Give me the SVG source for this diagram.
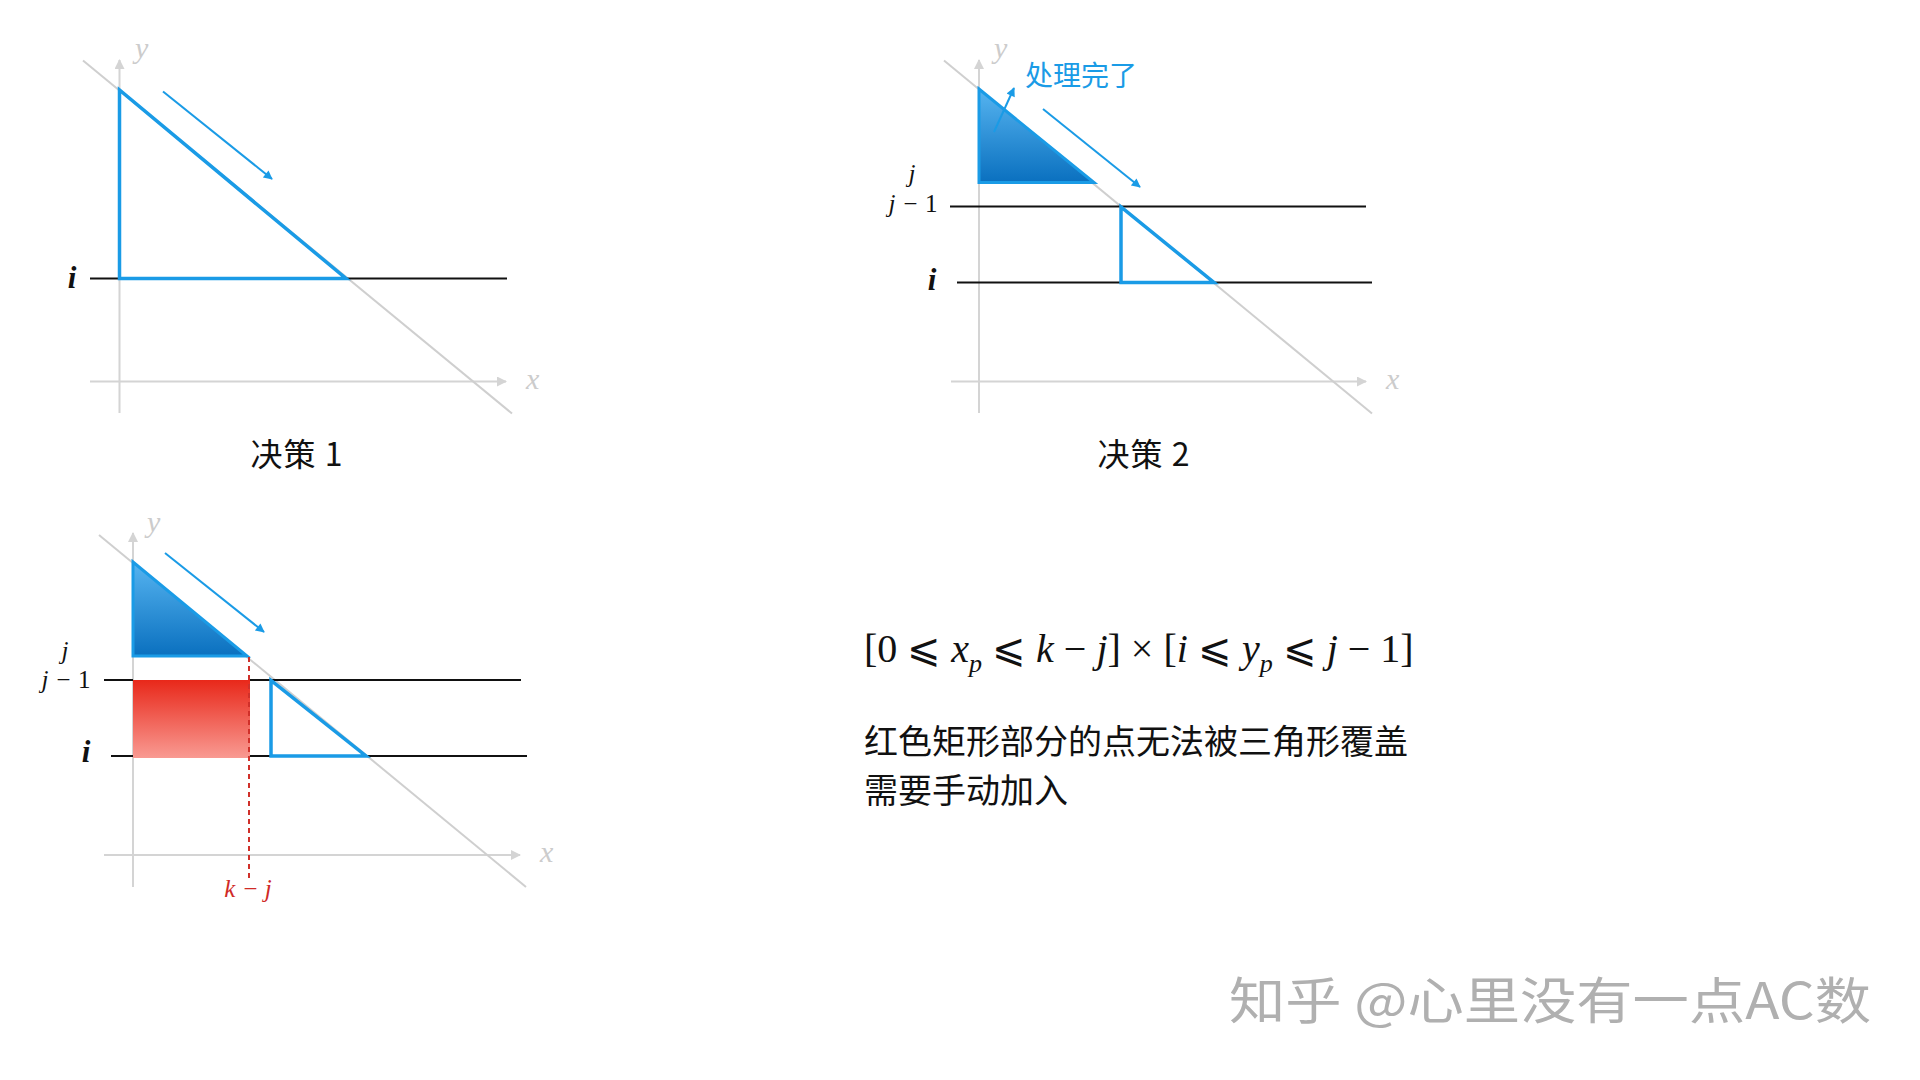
<svg xmlns="http://www.w3.org/2000/svg" width="1920" height="1080" viewBox="0 0 1920 1080">
<style>
.axis{stroke:#d4d4d4;stroke-width:2;fill:none}
.diag{stroke:#cfcfcf;stroke-width:2;fill:none}
.hl{stroke:#111;stroke-width:2;fill:none}
.tri{stroke:#1a9be6;stroke-width:3.5;fill:none;stroke-linejoin:miter}
.trif{stroke:#1a9be6;stroke-width:3;fill:url(#gb)}
.arr{stroke:#1a9be6;stroke-width:2;fill:none;marker-end:url(#ab)}
.axl{font-family:"Liberation Serif",serif;font-style:italic;font-size:30px;fill:#cccccc}
.lab{font-family:"Liberation Serif",serif;font-style:italic;font-size:25px;fill:#111}
.num{font-style:normal}
.il{font-family:"Liberation Serif",serif;font-style:italic;font-weight:bold;font-size:31px;fill:#111}
.cap{font-family:"Noto Sans CJK SC","Noto Sans",sans-serif;font-size:32px;fill:#111;letter-spacing:1px}
.cjk{font-family:"Noto Sans CJK SC",sans-serif;font-size:34px;fill:#111}
.math{font-family:"Liberation Serif","DejaVu Serif",serif;font-size:40px;fill:#111}
.it{font-style:italic}
</style>
<defs>
<marker id="ab" viewBox="0 0 10 10" refX="9" refY="5" markerWidth="11" markerHeight="9" markerUnits="userSpaceOnUse" orient="auto"><path d="M0,0 L10,5 L0,10 Z" fill="#1a9be6"/></marker>
<marker id="ag" viewBox="0 0 10 10" refX="9" refY="5" markerWidth="11" markerHeight="10" markerUnits="userSpaceOnUse" orient="auto"><path d="M0,0 L10,5 L0,10 Z" fill="#d4d4d4"/></marker>
<linearGradient id="gb" x1="0" y1="0" x2="0" y2="1"><stop offset="0" stop-color="#56b4f0"/><stop offset="1" stop-color="#0a70bf"/></linearGradient>
<linearGradient id="gr" x1="0" y1="0" x2="0" y2="1"><stop offset="0" stop-color="#e8281a"/><stop offset="1" stop-color="#f99a92"/></linearGradient>
</defs>

<g id="panel1">
<line class="axis" x1="119.5" y1="413" x2="119.5" y2="60" marker-end="url(#ag)"/>
<line class="axis" x1="90" y1="381.5" x2="506" y2="381.5" marker-end="url(#ag)"/>
<text class="axl" x="135" y="58">y</text>
<text class="axl" x="526" y="389">x</text>
<line class="diag" x1="83" y1="60.5" x2="512" y2="413.5"/>
<line class="hl" x1="90" y1="278.5" x2="507" y2="278.5"/>
<polygon class="tri" points="119.5,90 119.5,278.5 346,278.5"/>
<line class="arr" x1="163" y1="91.5" x2="272" y2="179"/>
<text class="il" x="72" y="288" text-anchor="middle">i</text>
<text class="cap" x="297" y="466" text-anchor="middle">决策 1</text>
</g>

<g id="panel2">
<line class="axis" x1="979" y1="413" x2="979" y2="60" marker-end="url(#ag)"/>
<line class="axis" x1="951" y1="381.5" x2="1366" y2="381.5" marker-end="url(#ag)"/>
<text class="axl" x="994" y="58">y</text>
<text class="axl" x="1386" y="389">x</text>
<line class="diag" x1="944" y1="60.5" x2="1372" y2="413.5"/>
<line class="hl" x1="950" y1="206.5" x2="1366" y2="206.5"/>
<line class="hl" x1="957" y1="282.5" x2="1372" y2="282.5"/>
<polygon class="trif" points="979,89 979,182.5 1094,182.5"/>
<polygon class="tri" points="1121,207 1121,282.5 1214,282.5"/>
<line class="arr" x1="1043" y1="109" x2="1140" y2="187"/>
<line class="arr" x1="994" y1="132" x2="1014" y2="88"/>
<text x="1025" y="86" style="font-family:'Noto Sans CJK SC',sans-serif;font-size:28px;fill:#1a9be6">处理完了</text>
<text class="lab" x="912" y="182" text-anchor="middle">j</text>
<text class="lab" x="913" y="212" text-anchor="middle">j − <tspan class="num">1</tspan></text>
<text class="il" x="932" y="290" text-anchor="middle">i</text>
<text class="cap" x="1144" y="466" text-anchor="middle">决策 2</text>
</g>

<g id="panel3">
<line class="axis" x1="133" y1="887" x2="133" y2="533" marker-end="url(#ag)"/>
<line class="axis" x1="104" y1="855" x2="520" y2="855" marker-end="url(#ag)"/>
<text class="axl" x="147" y="532">y</text>
<text class="axl" x="540" y="862">x</text>
<line class="diag" x1="99" y1="535" x2="526" y2="887"/>
<rect x="133" y="680" width="117" height="78" fill="url(#gr)"/>
<line class="hl" x1="104" y1="680" x2="133" y2="680"/>
<line class="hl" x1="250" y1="680" x2="521" y2="680"/>
<line class="hl" x1="111" y1="756" x2="133" y2="756"/>
<line class="hl" x1="250" y1="756" x2="527" y2="756"/>
<polygon class="trif" points="133,562 133,656 247,656"/>
<polygon class="tri" points="271,680.5 271,756 366,756"/>
<line x1="249" y1="657" x2="249" y2="880" stroke="#d0302a" stroke-width="2" stroke-dasharray="5,4"/>
<line class="arr" x1="165" y1="553" x2="264" y2="632"/>
<text class="lab" x="65" y="659" text-anchor="middle">j</text>
<text class="lab" x="66" y="688" text-anchor="middle">j − <tspan class="num">1</tspan></text>
<text class="il" x="86" y="762" text-anchor="middle">i</text>
<text x="248" y="897" text-anchor="middle" style="font-family:'Liberation Serif',serif;font-style:italic;font-size:25px;fill:#d02a26">k − j</text>
</g>

<g id="notes">
<text class="math" x="864" y="662">[0 ⩽ <tspan class="it">x</tspan><tspan font-size="26" dy="10" class="it">p</tspan><tspan dy="-10"> ⩽ </tspan><tspan class="it">k</tspan> − <tspan class="it">j</tspan>] × [<tspan class="it">i</tspan> ⩽ <tspan class="it">y</tspan><tspan font-size="26" dy="10" class="it">p</tspan><tspan dy="-10"> ⩽ </tspan><tspan class="it">j</tspan> − 1]</text>
<text class="cjk" x="864" y="754">红色矩形部分的点无法被三角形覆盖</text>
<text class="cjk" x="864" y="803">需要手动加入</text>
</g>

<g id="watermark">
<text x="1229" y="1019" textLength="642" lengthAdjust="spacingAndGlyphs" style="font-family:'Noto Sans CJK SC',sans-serif;font-size:50px;fill:#b0b0b0">知乎 @心里没有一点AC数</text>
</g>
</svg>
